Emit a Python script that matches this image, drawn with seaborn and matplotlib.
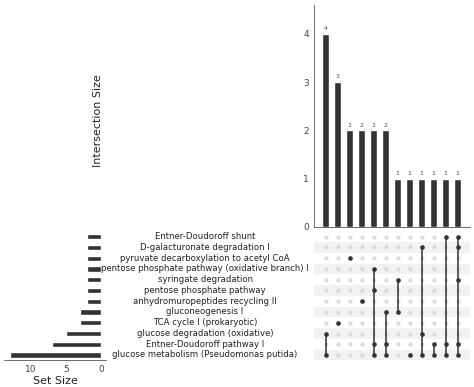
import numpy as np
import pandas as pd
import matplotlib
matplotlib.use("Agg")
import matplotlib.pyplot as plt
import seaborn as sns

# ---- data ----
set_names = [
    "Entner-Doudoroff shunt",
    "D-galacturonate degradation I",
    "pyruvate decarboxylation to acetyl CoA",
    "pentose phosphate pathway (oxidative branch) I",
    "syringate degradation",
    "pentose phosphate pathway",
    "anhydromuropeptides recycling II",
    "gluconeogenesis I",
    "TCA cycle I (prokaryotic)",
    "glucose degradation (oxidative)",
    "Entner-Doudoroff pathway I",
    "glucose metabolism (Pseudomonas putida)",
]
set_sizes = [2, 2, 2, 2, 2, 2, 2, 3, 3, 5, 7, 13]
intersection_sizes = [4, 3, 2, 2, 2, 2, 1, 1, 1, 1, 1, 1]
# members of each intersection (indices into set_names)
memberships = [
    [9, 11],
    [8],
    [2],
    [6],
    [3, 5, 10, 11],
    [7, 10, 11],
    [4, 7],
    [11],
    [1, 9, 11],
    [10, 11],
    [0, 10, 11],
    [0, 1, 4, 10, 11],
]
size_ticks = [10, 5, 0]
inter_ticks = [0, 1, 2, 3, 4]

sns.set_style("white")
plt.rcParams["font.family"] = ["DejaVu Sans"]

W, H = 474, 387
fig = plt.figure(figsize=(W / 100, H / 100), dpi=100)

def box(x0, y0, x1, y1):
    return [x0 / W, 1 - y1 / H, (x1 - x0) / W, (y1 - y0) / H]

dark = "#333333"
n_sets = len(set_names)
n_int = len(intersection_sizes)

# ---- intersection bars ----
ax_bar = fig.add_axes(box(313.7, 5, 469.7, 227))
df_int = pd.DataFrame({"col": [str(i) for i in range(n_int)], "size": intersection_sizes})
sns.barplot(data=df_int, x="col", y="size", color=dark, saturation=1, width=0.58, ax=ax_bar)
for c in ax_bar.containers:
    ax_bar.bar_label(c, fontsize=4.3, padding=2, color="#444444")
ax_bar.set_xlim(-1, n_int)
ax_bar.set_ylim(0, 4.6)
ax_bar.set_yticks(inter_ticks)
ax_bar.set_xticklabels([])
ax_bar.set_xlabel("")
ax_bar.set_ylabel("Intersection Size", fontsize=8, color="#222222")
ax_bar.yaxis.set_label_coords(-1.35, 0.48)
for s in ["top", "right"]:
    ax_bar.spines[s].set_visible(False)
for s in ["left", "bottom"]:
    ax_bar.spines[s].set_color("#555555")
    ax_bar.spines[s].set_linewidth(0.6)
ax_bar.tick_params(axis="y", labelsize=6.5, colors="#444444", length=2, width=0.5, pad=1.5)
ax_bar.tick_params(axis="x", length=2, width=0.5, colors="#777777")

# ---- matrix ----
ax_mat = fig.add_axes(box(313.7, 231.3, 469.7, 360.4))
for r in range(n_sets):
    if r % 2 == 1:
        ax_mat.axhspan(r - 0.5, r + 0.5, color="#f2f2f2", lw=0, zorder=0)
grid = pd.DataFrame([(c, r) for c in range(n_int) for r in range(n_sets)], columns=["c", "r"])
sns.scatterplot(data=grid, x="c", y="r", color="#dadada", s=9, linewidth=0, ax=ax_mat, zorder=1)
act = pd.DataFrame([(c, r) for c, mem in enumerate(memberships) for r in mem], columns=["c", "r"])
for c, mem in enumerate(memberships):
    if len(mem) > 1:
        ax_mat.vlines(c, min(mem), max(mem), color=dark, lw=1.1, zorder=2)
sns.scatterplot(data=act, x="c", y="r", color=dark, s=11, linewidth=0, ax=ax_mat, zorder=3)
ax_mat.set_xlim(-1, n_int)
ax_mat.set_ylim(n_sets - 0.5, -0.5)
ax_mat.set_axis_off()

# ---- set size bars ----
ax_set = fig.add_axes(box(4, 231.3, 106, 360.4))
df_set = pd.DataFrame({"name": set_names, "size": set_sizes})
sns.barplot(data=df_set, y="name", x="size", orient="h", color=dark, saturation=1, width=0.5, ax=ax_set)
ax_set.set_xlim(13.8, -0.7)
ax_set.set_ylim(n_sets - 0.5, -0.5)
ax_set.set_xticks(size_ticks)
ax_set.set_yticks([])
ax_set.set_ylabel("")
ax_set.set_xlabel("Set Size", fontsize=8, color="#222222", labelpad=1)
for s in ["top", "right", "left"]:
    ax_set.spines[s].set_visible(False)
ax_set.spines["bottom"].set_color("#555555")
ax_set.spines["bottom"].set_linewidth(0.6)
ax_set.tick_params(axis="x", labelsize=6.5, colors="#444444", length=2, width=0.5, pad=1.5)

# ---- set labels ----
for r, name in enumerate(set_names):
    y = 236.7 + r * 10.75
    fig.text(205 / W, 1 - y / H, name, ha="center", va="center", fontsize=6.1, color="#222222")

fig.savefig("out.png", dpi=100)
